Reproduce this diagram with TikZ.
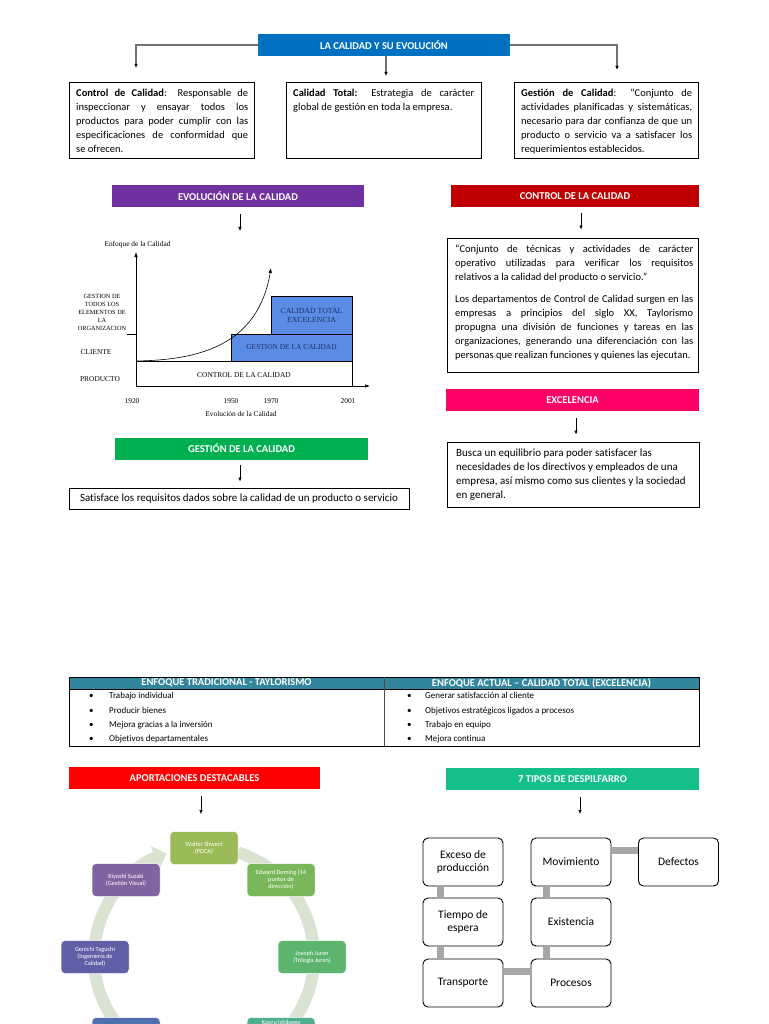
\documentclass[tikz,border=0pt]{standalone}
\usepackage{fontspec}
\setmainfont[Ligatures=NoCommon]{Carlito}
\newfontfamily\chartfont{Liberation Serif}
\usetikzlibrary{arrows.meta,calc}
\hyphenpenalty=10000
\exhyphenpenalty=10000
\definecolor{cTop}{HTML}{0070C0}
\definecolor{cEvo}{HTML}{7030A0}
\definecolor{cCtl}{HTML}{C00000}
\definecolor{cExc}{HTML}{FF0066}
\definecolor{cGes}{HTML}{00B050}
\definecolor{cApo}{HTML}{FF0000}
\definecolor{cTip}{HTML}{14BF8A}
\definecolor{cHdr}{HTML}{31859C}
\definecolor{cBlue}{HTML}{5A8CE6}
\definecolor{cNavy}{HTML}{1F2F5F}
\definecolor{cBand}{HTML}{DAE3D2}
\definecolor{nWal}{HTML}{9BBB59}
\definecolor{nDem}{HTML}{79B75A}
\definecolor{nJur}{HTML}{5DB46E}
\definecolor{nKao}{HTML}{4EAE8E}
\definecolor{nKiy}{HTML}{8064A2}
\definecolor{nTag}{HTML}{6060A8}
\definecolor{nBL}{HTML}{4F6FAE}
\begin{document}
\begin{tikzpicture}[x=1pt,y=-1pt,
  ttl/.style={fill=#1, text=white, font=\bfseries\fontsize{10.5}{11}\selectfont, minimum height=22pt, inner sep=0pt},
  frame/.style={draw=black, line width=0.9pt, fill=white, inner sep=0pt},
  txt/.style={inner sep=0pt, font=\fontsize{10.5}{14}\selectfont},
  arr/.style={-{Latex[length=4pt,width=3.5pt]}, line width=0.6pt},
  gcon/.style={draw=black!55, line width=1.2pt, -{Latex[length=4pt,width=3.5pt,color=black]}},
  cht/.style={font=\chartfont\fontsize{7.4}{8.5}\selectfont, inner sep=0pt, align=center},
  cnode/.style={fill=#1, rounded corners=4pt, minimum width=68pt, minimum height=33pt, text=white, font=\fontsize{6.3}{7}\selectfont, align=center, inner sep=1pt, draw=white, line width=0.5pt},
  dbox/.style={draw=black, line width=0.9pt, rounded corners=5pt, minimum width=80pt, minimum height=48pt, align=center, font=\fontsize{11.5}{13}\selectfont, fill=white, inner sep=1pt},
  dcon/.style={line width=7pt, draw=black!35},
  hdr/.style={fill=cHdr, text=white, font=\bfseries\fontsize{10.5}{11}\selectfont, minimum height=12pt, inner sep=0pt},
  lst/.style={anchor=north west, align=left, inner sep=0pt, font=\fontsize{9}{14.3}\selectfont}
]
\useasboundingbox (0,0) rectangle (768,1024);
\clip (0,0) rectangle (768,1024);
\fill[white] (0,0) rectangle (768,1024);

% ---------- top ----------
\node[ttl=cTop, minimum width=252pt] (t0) at (384,45) {LA CALIDAD Y SU EVOLUCIÓN};
\node[frame, minimum width=185pt, minimum height=76pt] (b1) at (161.5,120) {};
\node[frame, minimum width=195pt, minimum height=76pt] (b2) at (383.5,120) {};
\node[frame, minimum width=184pt, minimum height=76pt] (b3) at (606,120) {};
\coordinate (a1) at (136,68);
\coordinate (a3) at (617,70);
\coordinate (a2) at (386,76);
\draw[gcon] (t0.west) -| (a1);
\draw[gcon] (t0.east) -| (a3);
\draw[gcon] (t0.south -| a2) -- (a2);
\node[txt, text width=172pt, align=justify, anchor=north west] (b1t) at (76,88.5)
 {\textbf{Control de Calidad}: Responsable de\linebreak inspeccionar y ensayar todos los\linebreak productos para poder cumplir con las\linebreak especificaciones de conformidad que\linebreak se ofrecen.};
\node[txt, text width=181pt, align=justify, anchor=north west] (b2t) at (293,88.5)
 {\textbf{Calidad Total:} Estrategia de carácter\linebreak global de gestión en toda la empresa.};
\node[txt, text width=171pt, align=justify, anchor=north west] (b3t) at (521,88.5)
 {\textbf{Gestión de Calidad}: “Conjunto de\linebreak actividades planificadas y sistemáticas,\linebreak necesario para dar confianza de que un\linebreak producto o servicio va a satisfacer los\linebreak requerimientos establecidos.};

% ---------- evolucion ----------
\node[ttl=cEvo, minimum width=252pt] (evo) at (238,196) {EVOLUCIÓN DE LA CALIDAD};
\coordinate (c1) at (240,231);
\draw[arr, shorten <=7pt] (evo.south -| c1) -- (c1);
% chart
\coordinate (o) at (136,386);
\coordinate (ytop) at (136,252);
\coordinate (xend) at (370,386);
\draw[line width=0.6pt, -{Latex[length=5pt,width=3.5pt]}] (o) -- (ytop);
\draw[line width=0.6pt, -{Latex[length=5pt,width=3.5pt]}] (o) -- (xend);
\draw[line width=0.6pt] (127,334) -- (136,334);
\draw[line width=0.6pt] (136,361) -- (352,361);
\draw[line width=0.6pt] (352,361) -- (352,386);
\node[cht] (ylab) at (137.5,245) {Enfoque de la Calidad};
\node[draw=black, line width=0.6pt, fill=cBlue, minimum width=81pt, minimum height=38pt, inner sep=0pt, cht, text=cNavy, font=\chartfont\fontsize{7.8}{9}\selectfont] (ct) at (311.5,315) {CALIDAD TOTAL\\EXCELENCIA};
\node[draw=black, line width=0.6pt, fill=cBlue, minimum width=121pt, minimum height=27pt, inner sep=0pt, cht, text=cNavy] (gc) at (291.5,347.5) {GESTION DE LA CALIDAD};
\node[cht] (cc) at (244,375) {CONTROL DE LA CALIDAD};
\draw[line width=0.6pt, -{Latex[length=5pt,width=3.5pt]}] (136,361) .. controls (200,360) and (258,345) .. (271,268);
\node[cht, font=\chartfont\fontsize{6.3}{8}\selectfont] (lg) at (102,312) {GESTION DE\\TODOS LOS\\ELEMENTOS DE\\LA\\ORGANIZACION};
\node[cht] (lcl) at (96,352) {CLIENTE};
\node[cht] (lpr) at (100,379) {PRODUCTO};
\node[cht] (y1) at (132,401) {1920};
\node[cht] (y2) at (231,401) {1950};
\node[cht] (y3) at (271,401) {1970};
\node[cht] (y4) at (348,401) {2001};
\node[cht] (xlab) at (241,414) {Evolución de la Calidad};

% ---------- gestion ----------
\node[ttl=cGes, minimum width=253pt] (ges) at (241.5,448.5) {GESTIÓN DE LA CALIDAD};
\node[frame, txt, font=\fontsize{11}{14}\selectfont, minimum width=340pt, minimum height=21pt] (gbox) at (239,498.5) {Satisface los requisitos dados sobre la calidad de un producto o servicio};
\draw[arr, shorten <=5pt, shorten >=6pt] (ges.south -| 240,0) -- (gbox.north -| 240,0);

% ---------- control ----------
\node[ttl=cCtl, minimum width=248pt] (ctl) at (575,196.5) {CONTROL DE LA CALIDAD};
\node[frame, minimum width=251pt, minimum height=134pt] (cbox) at (572.5,305) {};
\draw[arr, shorten <=5pt, shorten >=8pt] (ctl.south -| 581,0) -- (cbox.north -| 581,0);
\node[txt, text width=238pt, align=justify, anchor=north west] (cbt) at (455,245)
 {“Conjunto de técnicas y actividades de carácter\linebreak operativo utilizadas para verificar los requisitos\linebreak relativos a la calidad del producto o servicio.”\par\vspace{8pt}
 Los departamentos de Control de Calidad surgen en las\linebreak empresas a principios del siglo XX, Taylorismo\linebreak propugna una división de funciones y tareas en las\linebreak organizaciones, generando una diferenciación con las\linebreak personas que realizan funciones y quienes las ejecutan.};

% ---------- excelencia ----------
\node[ttl=cExc, minimum width=253pt] (exc) at (572.5,400) {EXCELENCIA};
\node[frame, minimum width=252pt, minimum height=65pt] (ebox) at (573,474.5) {};
\draw[arr, shorten <=7pt, shorten >=7pt] (exc.south -| 576,0) -- (ebox.north -| 576,0);
\node[txt, font=\fontsize{11}{14}\selectfont, align=left, anchor=north west] (ebt) at (456,448.5)
 {Busca un equilibrio para poder satisfacer las\\necesidades de los directivos y empleados de una\\empresa, así mismo como sus clientes y la sociedad\\en general.};

% ---------- table ----------
\node[hdr, minimum width=315pt] (h1) at (226.5,683) {ENFOQUE TRADICIONAL - TAYLORISMO};
\node[hdr, minimum width=315pt] (h2) at (541.5,683) {ENFOQUE ACTUAL – CALIDAD TOTAL (EXCELENCIA)};
\draw[line width=0.7pt] (69,677) rectangle (699,746);
\draw[line width=0.7pt] (69,689) -- (699,689);
\draw[line width=0.9pt, black!70] (384,677) -- (384,746);
\node[lst] (l1) at (89,692.5)
 {\makebox[20pt][l]{•}Trabajo individual\\\makebox[20pt][l]{•}Producir bienes\\\makebox[20pt][l]{•}Mejora gracias a la inversión\\\makebox[20pt][l]{•}Objetivos departamentales};
\node[lst] (l2) at (407,692.5)
 {\makebox[18pt][l]{•}Generar satisfacción al cliente\\\makebox[18pt][l]{•}Objetivos estratégicos ligados a procesos\\\makebox[18pt][l]{•}Trabajo en equipo\\\makebox[18pt][l]{•}Mejora continua};

% ---------- aportaciones ----------
\node[ttl=cApo, minimum width=251pt] (apo) at (194.5,778) {APORTACIONES DESTACABLES};
\coordinate (ap) at (201,814);
\draw[arr, shorten <=7pt] (apo.south -| ap) -- (ap);
\begin{scope}[shift={(204,957)}, yscale=-1]
\draw[line width=12pt, draw=cBand, -{Triangle[length=12pt,width=24pt,color=cBand]}] (72:110) arc[start angle=72, end angle=-250, radius=110];
\end{scope}
\node[cnode=nWal] (wal) at (204,848) {Walter Shwert\\(PDCA)};
\node[cnode=nDem] (dem) at (281,880) {Edward Deming (14\\puntos de\\dirección)};
\node[cnode=nJur] (jur) at (312,957) {Joseph Juran\\(Trilogía Juran)};
\node[cnode=nKao] (kao) at (281,1034) {};
\node[cnode=nKiy] (kiy) at (126,880) {Kiyoshi Suzaki\\(Gestión Visual)};
\node[cnode=nTag] (tag) at (95,957) {Genichi Taguchi\\(Ingeniería de\\Calidad)};
\node[cnode=nBL] (bl) at (126,1034) {};
\node[anchor=north, text=white, inner sep=0pt, font=\fontsize{6.3}{7}\selectfont] (kaot) at (kao.north |- 0,1020) {Kaoru Ishikawa};

% ---------- despilfarro ----------
\node[ttl=cTip, minimum width=253pt] (tip) at (572.5,779) {7 TIPOS DE DESPILFARRO};
\coordinate (tp) at (580,814);
\draw[arr, shorten <=7pt] (tip.south -| tp) -- (tp);
\node[dbox] (ex) at (463,862) {Exceso de\\producción};
\node[dbox] (mo) at (571,862) {Movimiento};
\node[dbox] (de) at (678.5,862) {Defectos};
\node[dbox] (ti) at (463,922) {Tiempo de\\espera};
\node[dbox] (es) at (571,922) {Existencia};
\node[dbox] (tr) at (463,983) {Transporte};
\node[dbox] (pr) at (571,983) {Procesos};
\draw[dcon] (ex.south -| 440,0) -- (ti.north -| 440,0);
\draw[dcon] (ti.south -| 440,0) -- (tr.north -| 440,0);
\draw[dcon] (tr.east |- 0,971) -- (pr.west |- 0,971);
\draw[dcon] (pr.north -| 546,0) -- (es.south -| 546,0);
\draw[dcon] (es.north -| 546,0) -- (mo.south -| 546,0);
\draw[dcon] (mo.east |- 0,850) -- (de.west |- 0,850);
\end{tikzpicture}
\end{document}
